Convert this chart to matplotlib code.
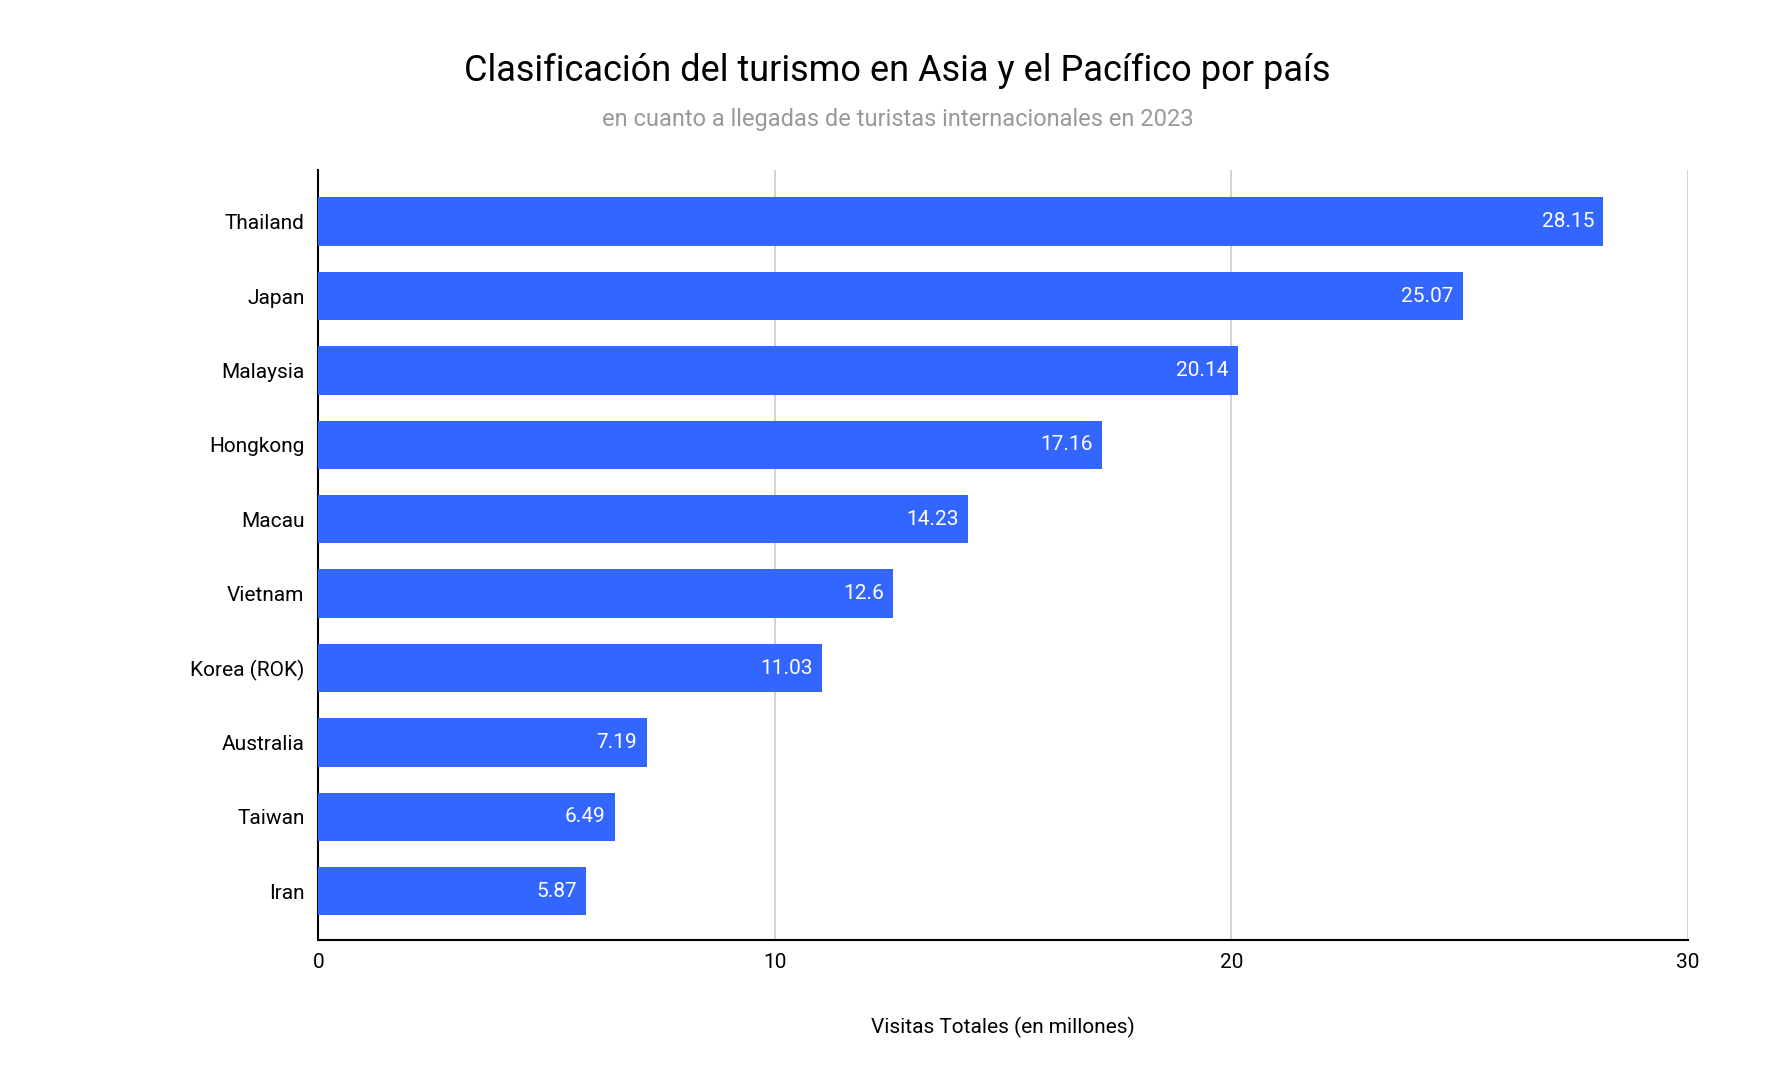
import matplotlib
matplotlib.use("Agg")
import matplotlib.pyplot as plt

countries = ["Thailand", "Japan", "Malaysia", "Hongkong", "Macau", "Vietnam",
             "Korea (ROK)", "Australia", "Taiwan", "Iran"]
values = [28.15, 25.07, 20.14, 17.16, 14.23, 12.6, 11.03, 7.19, 6.49, 5.87]
labels = ["28.15", "25.07", "20.14", "17.16", "14.23", "12.6", "11.03", "7.19", "6.49", "5.87"]
xticks = [0, 10, 20, 30]

plt.rcParams['font.family'] = ['Roboto', 'DejaVu Sans']
fig = plt.figure(figsize=(17.88, 10.8), dpi=100)
ax = fig.add_axes([0.178, 0.130, 0.766, 0.713])
y = list(range(len(countries)))
ax.barh(y, values, height=0.65, color="#3366FF", zorder=3)
for yi, v, l in zip(y, values, labels):
    ax.text(v - 0.2, yi, l, ha="right", va="center", color="white", fontsize=15, zorder=4)
ax.set_yticks(y)
ax.set_yticklabels(countries, fontsize=15)
ax.invert_yaxis()
ax.set_ylim(len(countries) - 0.35, -0.7)
ax.set_xlim(0, 30)
ax.set_xticks(xticks)
ax.set_xticklabels([str(t) for t in xticks], fontsize=15)
ax.grid(axis="x", color="#cccccc", linewidth=1.2, zorder=0)
for s in ["top", "right"]:
    ax.spines[s].set_visible(False)
ax.spines["left"].set_linewidth(1.5)
ax.spines["bottom"].set_linewidth(1.5)
ax.tick_params(length=0, pad=10)
ax.set_xlabel("Visitas Totales (en millones)", fontsize=15, labelpad=32)
fig.text(0.502, 0.934, "Clasificación del turismo en Asia y el Pacífico por país",
         ha="center", va="center", fontsize=26)
fig.text(0.502, 0.889, "en cuanto a llegadas de turistas internacionales en 2023",
         ha="center", va="center", fontsize=17, color="#999999")
fig.savefig("out.png", dpi=100)
